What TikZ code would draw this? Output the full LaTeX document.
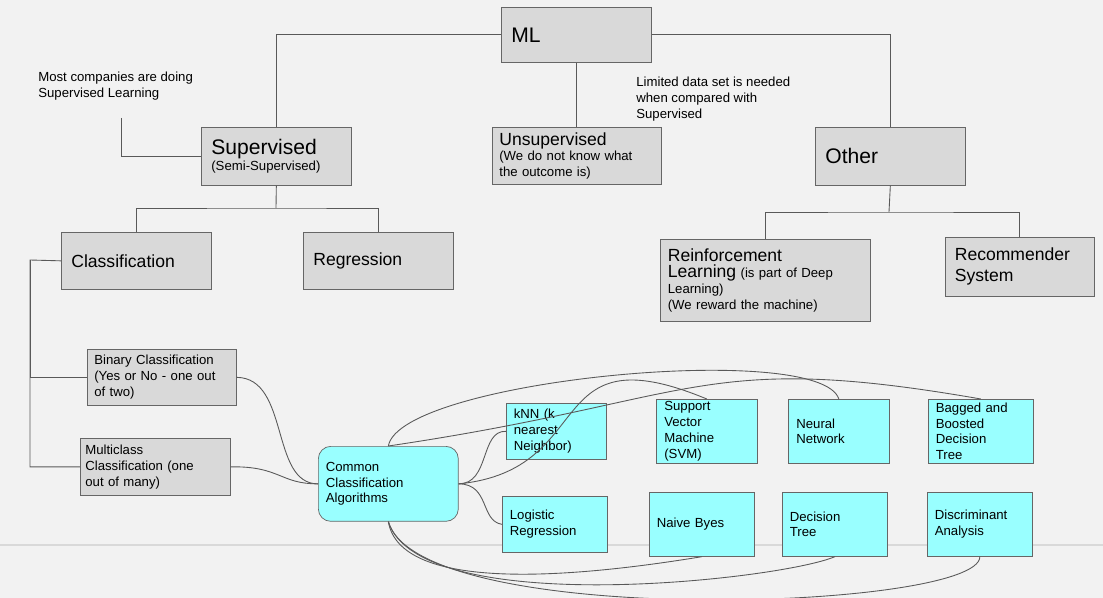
\documentclass[tikz,border=0pt]{standalone}
\usepackage{fontspec}
\setmainfont{Liberation Sans}
\usetikzlibrary{positioning}
\definecolor{bggray}{HTML}{F2F2F2}
\definecolor{boxgray}{HTML}{D9D9D9}
\definecolor{algcyan}{HTML}{99FFFF}
\tikzset{x=0.02cm, y=-0.02cm,
    box/.style={draw=black!60, fill=boxgray, anchor=north west, align=left,
        inner xsep=0.2cm, inner ysep=0pt, font=\fontsize{7.5}{9}\selectfont},
    alg/.style={box, fill=algcyan, inner xsep=0.15cm},
    link/.style={draw=black!65, line width=0.5pt},
    big/.style={font=\fontsize{12}{14}\selectfont},
    mid/.style={font=\fontsize{10}{12}\selectfont},
    note/.style={anchor=north west, align=left, inner sep=0pt, font=\fontsize{7.5}{9}\selectfont}}
\begin{document}
\begin{tikzpicture}
\fill[bggray] (0,0) rectangle (1103,598);
\useasboundingbox (0,0) rectangle (1103,598);
\draw[black!15, line width=0.7pt] (0,545) -- (1103,545);

% top level
\node[box, big, minimum width=3cm, minimum height=1.1cm, text width=2.6cm] (ml) at (501,7) {ML};
\node[box, minimum width=2.98cm, minimum height=1.16cm, text width=2.6cm] (sup) at (201,127)
    {{\fontsize{12}{14}\selectfont Supervised}\\(Semi-Supervised)};
\node[box, minimum width=3.38cm, minimum height=1.14cm, text width=3.1cm, inner xsep=0.14cm] (unsup) at (492,127)
    {{\fontsize{10}{12}\selectfont Unsupervised}\\(We do not know what\\the outcome is)};
\node[box, big, minimum width=3cm, minimum height=1.16cm, text width=2.6cm] (other) at (815,127) {Other};

% notes
\node[note] (most) at (38,72) {Most companies are doing\\Supervised Learning};
\node[note] (limit) at (636,77) {Limited data set is needed\\when compared with\\Supervised};

% second level
\node[box, mid, minimum width=2.98cm, minimum height=1.14cm, text width=2.6cm] (cls) at (61,232) {Classification};
\node[box, mid, minimum width=2.98cm, minimum height=1.14cm, text width=2.6cm] (reg) at (303,232) {Regression};
\node[box, minimum width=4.2cm, minimum height=1.64cm, text width=3.9cm, inner xsep=0.15cm] (rl) at (660,239)
    {{\fontsize{10}{12}\selectfont Reinforcement}\\{\fontsize{10}{12}\selectfont Learning} (is part of Deep\\Learning)\\(We reward the machine)};
\node[box, mid, minimum width=2.98cm, minimum height=1.18cm, text width=2.6cm, inner xsep=0.15cm] (rec) at (945,237) {Recommender\\System};

% classification kinds
\node[box, minimum width=2.98cm, minimum height=1.12cm, text width=2.7cm, inner xsep=0.13cm] (bin) at (87,349)
    {Binary Classification\\(Yes or No - one out\\of two)};
\node[box, minimum width=3cm, minimum height=1.14cm, text width=2.8cm, inner xsep=0.1cm] (multi) at (80,438)
    {Multiclass\\Classification (one\\out of many)};

% algorithms
\node[alg, rounded corners=0.25cm, minimum width=2.8cm, minimum height=1.5cm, text width=2.5cm] (cca) at (318,446)
    {Common\\Classification\\Algorithms};
\node[alg, minimum width=1.96cm, minimum height=1.12cm, text width=1.7cm] (knn) at (506,403) {kNN (k\\nearest\\Neighbor)};
\node[alg, minimum width=2.02cm, minimum height=1.28cm, text width=1.7cm] (svm) at (656,399) {Support\\Vector\\Machine\\(SVM)};
\node[alg, minimum width=2.02cm, minimum height=1.28cm, text width=1.7cm] (nn) at (788,399) {Neural\\Network};
\node[alg, minimum width=2.02cm, minimum height=1.28cm, text width=1.8cm] (bag) at (928,399) {Bagged and\\Boosted\\Decision\\Tree};
\node[alg, minimum width=2.04cm, minimum height=1.12cm, text width=1.8cm] (logit) at (502,496) {Logistic\\Regression};
\node[alg, minimum width=2.04cm, minimum height=1.28cm, text width=1.8cm] (nb) at (649,492) {Naive Byes};
\node[alg, minimum width=2.04cm, minimum height=1.28cm, text width=1.8cm] (dt) at (782,492) {Decision\\Tree};
\node[alg, minimum width=2.04cm, minimum height=1.28cm, text width=1.8cm] (da) at (927,492) {Discriminant\\Analysis};

% tree connectors
\draw[link] (ml.west) -| (sup.north);
\draw[link] (ml.south -| unsup.north) -- (unsup.north);
\draw[link] (ml.east) -| (other.north);
\coordinate (noteend) at (121,118);
\draw[link] (noteend) |- (sup.west);
\coordinate (supfork) at (276,208);
\draw[link] (sup.south) -- (supfork);
\draw[link] (cls.north) |- (supfork) -| (reg.north);
\coordinate (othfork) at (889,212);
\draw[link] (other.south) -- (othfork);
\draw[link] (rl.north) |- (othfork) -| (rec.north);
\coordinate (clsturn) at (30,260);
\draw[link] (cls.west) -- (clsturn) |- (multi.west);
\draw[link] (clsturn) |- (bin.west);

% curved connectors
\draw[link] (bin.east) .. controls (290,378) and (270,484) .. (cca.west);
\draw[link] (multi.east) .. controls (280,466) and (280,484) .. (cca.west);
\draw[link] (cca.east) .. controls (490,484) and (480,430) .. (knn.west);
\draw[link] (cca.east) .. controls (490,484) and (480,521) .. (logit.west);
\draw[link] (cca.east) .. controls (600,470) and (540,330) .. (svm.north);
\draw[link] (cca.north) .. controls (400,380) and (820,340) .. (nn.north);
\draw[link] (cca.north) .. controls (700,400) and (700,350) .. (bag.north);
\draw[link] (cca.south) .. controls (400,590) and (560,580) .. (nb.south);
\draw[link] (cca.south) .. controls (420,620) and (780,580) .. (dt.south);
\draw[link] (cca.south) .. controls (420,630) and (980,610) .. (da.south);
\end{tikzpicture}
\end{document}
